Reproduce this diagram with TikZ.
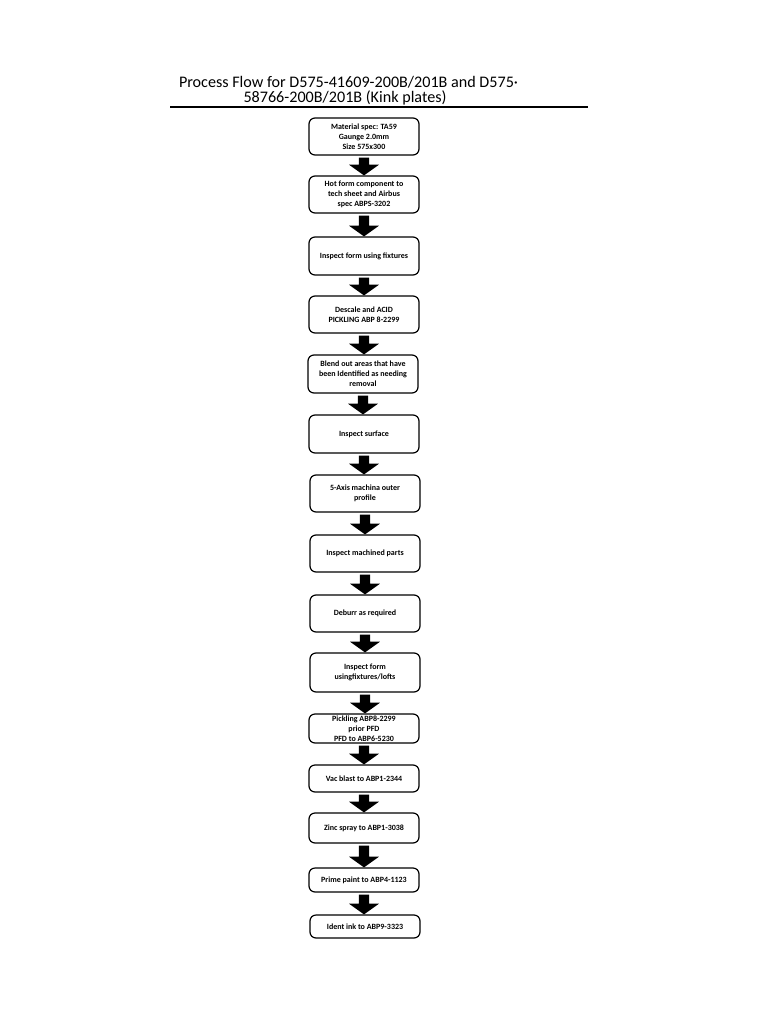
\documentclass[tikz,border=0pt]{standalone}
\usepackage{fontspec}
\setmainfont{Carlito}
\usetikzlibrary{calc}
\tikzset{
  stepbox/.style={draw=black, line width=0.9pt, rounded corners=4.5pt, fill=white,
    minimum width=82.5pt, inner sep=1pt, align=center,
    font=\fontsize{6pt}{7.5pt}\selectfont\bfseries},
  titletext/.style={font=\fontsize{12.1pt}{13pt}\selectfont, inner sep=0pt}
}
\newcommand\blockarrow[2]{%
  \fill let \p1=(#1.south), \p2=(#2.north) in
    (\x1-3.8pt,\y1-1.5pt) -- (\x1+3.8pt,\y1-1.5pt) -- (\x1+3.8pt,\y2+8pt) --
    (\x1+11.2pt,\y2+8pt) -- (\x1,\y2) -- (\x1-11.2pt,\y2+8pt) --
    (\x1-3.8pt,\y2+8pt) -- cycle;}
\begin{document}
\begin{tikzpicture}[x=0.75pt,y=-0.75pt]
\useasboundingbox[fill=white] (0,0) rectangle (768,1024);
\node[titletext] (t1) at (348.5,82) {Process Flow for D575-41609-200B/201B and D575·};
\node[titletext] (t2) at (345,98) {58766-200B/201B (Kink plates)};
\coordinate (r1) at (170,107);
\coordinate (r2) at (588,107);
\draw[line width=0.8pt] (r1) -- (r2);

\node[stepbox, minimum height=27.75pt] (b1) at (364,136.5) {Material spec: TA59\\Gaunge 2.0mm\\Size 575x300};
\node[stepbox, minimum height=27.75pt] (b2) at (364,194.5) {Hot form component to\\tech sheet and Airbus\\spec ABPS-3202};
\node[stepbox, minimum height=28.5pt] (b3) at (364,256) {Inspect form using fixtures};
\node[stepbox, minimum height=27.75pt] (b4) at (364,314.5) {Descale and ACID\\PICKLING ABP 8-2299};
\node[stepbox, minimum height=28.5pt] (b5) at (363,374) {Blend out areas that have\\been Identified as needing\\removal};
\node[stepbox, minimum height=28.5pt] (b6) at (364,434) {Inspect surface};
\node[stepbox, minimum height=27.75pt] (b7) at (365,493.5) {5-Axis machina outer\\profile};
\node[stepbox, minimum height=27.75pt] (b8) at (365,553.5) {Inspect machined parts};
\node[stepbox, minimum height=27.75pt] (b9) at (365,613.5) {Deburr as required};
\node[stepbox, minimum height=29.25pt] (b10) at (365,672.5) {Inspect form\\usingfixtures/lofts};
\node[stepbox, minimum height=21.75pt, inner sep=0.5pt] (b11) at (364,728.5) {Pickling ABP8-2299\\prior PFD\\PFD to ABP6-5230};
\node[stepbox, minimum height=20.25pt] (b12) at (364,778.5) {Vac blast to ABP1-2344};
\node[stepbox, minimum height=22.5pt] (b13) at (364,828) {Zinc spray to ABP1-3038};
\node[stepbox, minimum height=18pt] (b14) at (364,880) {Prime paint to ABP4-1123};
\node[stepbox, minimum height=17.25pt] (b15) at (365,926.5) {Ident ink to ABP9-3323};

\blockarrow{b1}{b2}
\blockarrow{b2}{b3}
\blockarrow{b3}{b4}
\blockarrow{b4}{b5}
\blockarrow{b5}{b6}
\blockarrow{b6}{b7}
\blockarrow{b7}{b8}
\blockarrow{b8}{b9}
\blockarrow{b9}{b10}
\blockarrow{b10}{b11}
\blockarrow{b11}{b12}
\blockarrow{b12}{b13}
\blockarrow{b13}{b14}
\blockarrow{b14}{b15}
\end{tikzpicture}
\end{document}
